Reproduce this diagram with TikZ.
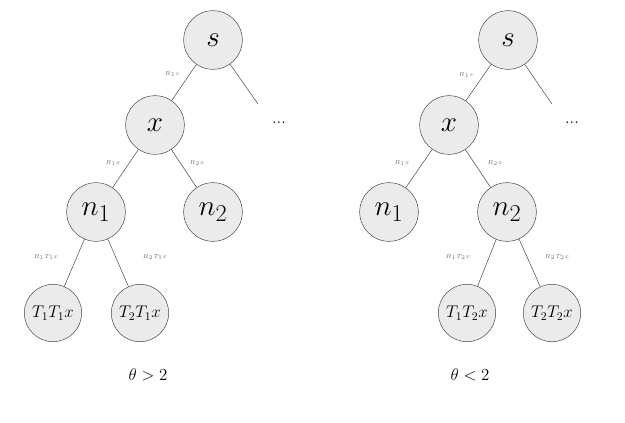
\documentclass[tikz,border=0pt]{standalone}
\begin{document}
\begin{tikzpicture}[x=0.03cm,y=-0.03cm,
 nd/.style={circle,draw=black!75,fill=black!8,minimum size=1.76cm,inner sep=0pt,font=\Huge},
 tn/.style={circle,draw=black!75,fill=black!8,minimum size=1.72cm,inner sep=0pt,font=\Large},
 el/.style={font=\tiny,text=black!55},
 ed/.style={draw=black!75}]
\useasboundingbox (0,0) rectangle (625,422);
% left
\node[nd] (s) at (213,40) {$s$};
\node[nd] (x) at (155,125) {$x$};
\node[nd] (n1) at (96,212) {$n_1$};
\node[nd] (n2) at (213,212) {$n_2$};
\node[tn] (a) at (53,313) {$T_1T_1x$};
\node[tn] (b) at (140,313) {$T_2T_1x$};
\coordinate (e) at (258,104);
\node[font=\Large] (d) at (279,123) {...};
\draw[ed] (s)--(x) (x)--(n1) (x)--(n2) (n1)--(a) (n1)--(b) (s)--(e);
\node[el] (l1) at (172,74) {$R_1s$};
\node[el] (l2) at (113,163) {$R_1x$};
\node[el] (l3) at (197,163) {$R_2x$};
\node[el] (l4) at (46,257) {$R_1T_1x$};
\node[el] (l5) at (155,257) {$R_2T_1x$};
\node[font=\Large] (t1) at (148,375) {$\theta>2$};
% right
\node[nd] (s2) at (508,40) {$s$};
\node[nd] (x2) at (449,125) {$x$};
\node[nd] (m1) at (389,212) {$n_1$};
\node[nd] (m2) at (507,212) {$n_2$};
\node[tn] (c) at (467,313) {$T_1T_2x$};
\node[tn] (f) at (552,313) {$T_2T_2x$};
\coordinate (e2) at (552,104);
\node[font=\Large] (d2) at (572,123) {...};
\draw[ed] (s2)--(x2) (x2)--(m1) (x2)--(m2) (m2)--(c) (m2)--(f) (s2)--(e2);
\node[el] (k1) at (466,75) {$R_1s$};
\node[el] (k2) at (402,163) {$R_1x$};
\node[el] (k3) at (495,163) {$R_2x$};
\node[el] (k4) at (458,257) {$R_1T_2x$};
\node[el] (k5) at (557,257) {$R_2T_2x$};
\node[font=\Large] (t2) at (470,375) {$\theta<2$};
\end{tikzpicture}
\end{document}
